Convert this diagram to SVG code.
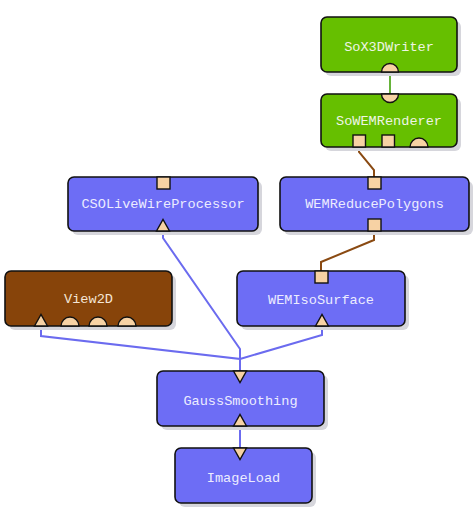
<svg xmlns="http://www.w3.org/2000/svg" width="474" height="515" viewBox="0 0 474 515">
<style>
.sh{fill:#d6d6dc}
.box{stroke:#111;stroke-width:1.6}
.blue{fill:#6d6df5}
.green{fill:#66bf00}
.brown{fill:#87440a}
.port{fill:#f7d2a4;stroke:#111;stroke-width:1.4}
.lbl{font-family:"Liberation Mono","DejaVu Sans Mono",monospace;font-size:13.6px;text-anchor:middle;fill:#ececff}
.lg{fill:#eef5e4}
.lb{fill:#f5e6d6}
.c{fill:none;stroke-width:2}
.cb{stroke:#6b6bef}
.cbr{stroke:#8a4a12}
.cg{stroke:#66b33a}
</style>
<rect width="474" height="515" fill="#ffffff"/>
<g id="connectors">
<path class="c cg" d="M390,72 V94"/>
<path class="c cbr" d="M359,147 V152 L374,170 V177"/>
<path class="c cbr" d="M374,231 V240 L321,262 V271"/>
<path class="c cb" d="M41,326 V336 L240,359 V371"/>
<path class="c cb" d="M322,326 V335 L240,359"/>
<path class="c cb" d="M163,231 V238 L240,349 V359"/>
<path class="c cb" d="M240,426 V448"/>
</g>
<g id="SoX3DWriter">
<rect class="sh" x="325" y="21" width="136" height="55" rx="6"/>
<rect class="box green" x="321" y="17" width="136" height="55" rx="6"/>
<text class="lbl lg" x="389" y="51">SoX3DWriter</text>
<path class="port" d="M381.5,72 A8.5,8.5 0 0 1 398.5,72 Z"/>
</g>
<g id="SoWEMRenderer">
<rect class="sh" x="325" y="98" width="136" height="53" rx="6"/>
<rect class="box green" x="321" y="94" width="136" height="53" rx="6"/>
<text class="lbl lg" x="389" y="125">SoWEMRenderer</text>
<path class="port" d="M381.5,94 A8.5,8.5 0 0 0 398.5,94 Z"/>
<rect class="port" x="353" y="135" width="12.5" height="12"/>
<rect class="port" x="382" y="135" width="12.5" height="12"/>
<path class="port" d="M410,147 A9,9 0 0 1 428,147 Z"/>
</g>
<g id="WEMReducePolygons">
<rect class="sh" x="284" y="181" width="189" height="54" rx="6"/>
<rect class="box blue" x="280" y="177" width="189" height="54" rx="6"/>
<text class="lbl" x="374.5" y="208">WEMReducePolygons</text>
<rect class="port" x="368" y="177" width="13" height="12"/>
<rect class="port" x="368" y="219" width="13" height="12"/>
</g>
<g id="CSOLiveWireProcessor">
<rect class="sh" x="72" y="181" width="190" height="54" rx="6"/>
<rect class="box blue" x="68" y="177" width="190" height="54" rx="6"/>
<text class="lbl" x="163" y="208">CSOLiveWireProcessor</text>
<rect class="port" x="157" y="177" width="13" height="12"/>
<path class="port" d="M156.5,231 L163,219.5 L169.5,231 Z"/>
</g>
<g id="View2D">
<rect class="sh" x="9" y="275" width="167" height="55" rx="6"/>
<rect class="box brown" x="5" y="271" width="167" height="55" rx="6"/>
<text class="lbl lb" x="88.5" y="303">View2D</text>
<path class="port" d="M34.5,326 L41,314.5 L47.5,326 Z"/>
<path class="port" d="M61,326 A9,9 0 0 1 79,326 Z"/>
<path class="port" d="M89,326 A9,9 0 0 1 107,326 Z"/>
<path class="port" d="M118,326 A9,9 0 0 1 136,326 Z"/>
</g>
<g id="WEMIsoSurface">
<rect class="sh" x="241" y="275" width="168" height="55" rx="6"/>
<rect class="box blue" x="237" y="271" width="168" height="55" rx="6"/>
<text class="lbl" x="321" y="304">WEMIsoSurface</text>
<rect class="port" x="315" y="271" width="13" height="12"/>
<path class="port" d="M315.5,326 L322,314.5 L328.5,326 Z"/>
</g>
<g id="GaussSmoothing">
<rect class="sh" x="161" y="375" width="167" height="55" rx="6"/>
<rect class="box blue" x="157" y="371" width="167" height="55" rx="6"/>
<text class="lbl" x="240.5" y="405">GaussSmoothing</text>
<path class="port" d="M233.5,371 L240,382.5 L246.5,371 Z"/>
<path class="port" d="M233.5,426 L240,414.5 L246.5,426 Z"/>
</g>
<g id="ImageLoad">
<rect class="sh" x="179" y="452" width="137" height="55" rx="6"/>
<rect class="box blue" x="175" y="448" width="137" height="55" rx="6"/>
<text class="lbl" x="243.5" y="482">ImageLoad</text>
<path class="port" d="M233.5,448 L240,459.5 L246.5,448 Z"/>
</g>
</svg>
